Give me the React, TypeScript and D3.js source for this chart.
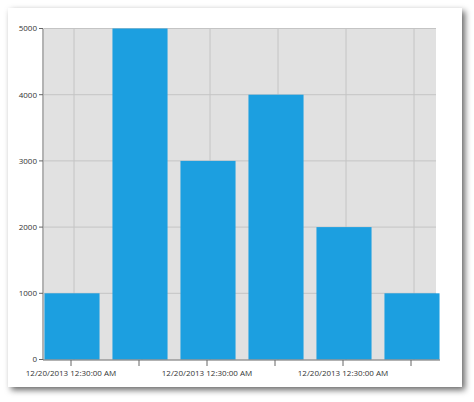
import * as d3 from "d3";

const WIDTH = 474;
const HEIGHT = 402;
const PLOT = { left: 44, right: 436, top: 28.5, bottom: 359.5 };

const categories = ["c1", "c2", "c3", "c4", "c5", "c6"];
const tickLabels = [
  "12/20/2013 12:30:00 AM",
  "",
  "12/20/2013 12:30:00 AM",
  "",
  "12/20/2013 12:30:00 AM",
  "",
];
const values = [1000, 5000, 3000, 4000, 2000, 1000];
const yTicks = [0, 1000, 2000, 3000, 4000, 5000];

const FONT = "'Open Sans', 'Noto Sans', sans-serif";

export default function App() {
  const x = d3
    .scaleBand<string>()
    .domain(categories)
    .range([38, 446])
    .paddingInner(0.19)
    .paddingOuter(0.095);

  const y = d3.scaleLinear().domain([0, 5000]).range([PLOT.bottom, PLOT.top]);

  const center = (c: string) => (x(c) ?? 0) + x.bandwidth() / 2;

  return (
    <svg
      width={WIDTH}
      height={HEIGHT}
      style={{ position: "absolute", left: 0, top: 0, background: "#fff" }}
    >
      <defs>
        <filter id="shadow" x="-5%" y="-5%" width="115%" height="115%">
          <feDropShadow dx="3" dy="3" stdDeviation="3" floodColor="#000" floodOpacity="0.6" />
        </filter>
      </defs>

      {/* panel */}
      <rect x={8} y={8} width={454} height={379} fill="#fff" filter="url(#shadow)" />

      {/* plot background */}
      <rect
        x={PLOT.left}
        y={PLOT.top}
        width={PLOT.right - PLOT.left}
        height={PLOT.bottom - PLOT.top}
        fill="#e1e1e1"
      />

      {/* grid */}
      {yTicks.slice(1).map((t) => (
        <line
          key={"hg" + t}
          x1={PLOT.left}
          x2={PLOT.right}
          y1={y(t)}
          y2={y(t)}
          stroke="#c4c4c4"
          strokeWidth={1}
        />
      ))}
      {categories.map((c) => (
        <line
          key={"vg" + c}
          x1={center(c) + 2}
          x2={center(c) + 2}
          y1={PLOT.top}
          y2={PLOT.bottom}
          stroke="#c4c4c4"
          strokeWidth={1}
        />
      ))}

      {/* bars */}
      {categories.map((c, i) => (
        <rect
          key={"b" + c}
          x={x(c)}
          y={y(values[i])}
          width={x.bandwidth()}
          height={y(0) - y(values[i])}
          fill="#1c9fe0"
        />
      ))}

      {/* y axis */}
      <line x1={43} x2={43} y1={PLOT.top} y2={PLOT.bottom + 0.5} stroke="#666" strokeWidth={1} />
      {yTicks.map((t) => (
        <g key={"yt" + t}>
          <line x1={39} x2={43} y1={y(t)} y2={y(t)} stroke="#666" />
          <text
            x={37}
            y={y(t)}
            dy="0.35em"
            textAnchor="end"
            fontFamily={FONT}
            fontSize={8}
            fill="#333"
          >
            {t}
          </text>
        </g>
      ))}

      {/* x axis */}
      <line x1={43} x2={440} y1={360} y2={360} stroke="#666" strokeWidth={1} />
      {categories.map((c, i) => (
        <g key={"xt" + c}>
          <line x1={center(c) - 1} x2={center(c) - 1} y1={360} y2={366} stroke="#666" />
          {tickLabels[i] && (
            <text
              x={center(c) - 1}
              y={376}
              textAnchor="middle"
              fontFamily={FONT}
              fontSize={8}
              fill="#333"
            >
              {tickLabels[i]}
            </text>
          )}
        </g>
      ))}
    </svg>
  );
}
